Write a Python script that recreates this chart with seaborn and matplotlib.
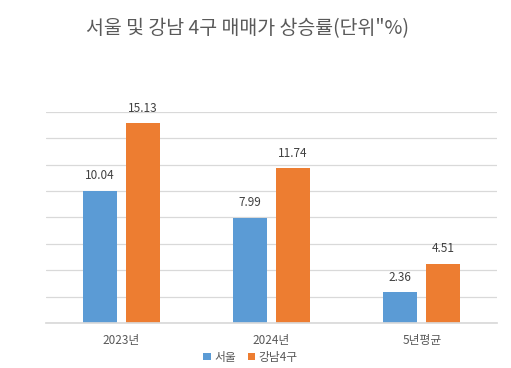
import matplotlib
matplotlib.use("Agg")
import matplotlib.pyplot as plt
import seaborn as sns
import pandas as pd
from matplotlib.patches import Patch

categories = ["2023년", "2024년", "5년평균"]
series_names = ["서울", "강남4구"]
seoul = [10.04, 7.99, 2.36]
gangnam = [15.13, 11.74, 4.51]
colors = ["#5b9bd5", "#ed7d31"]

df = pd.DataFrame({
    "cat": categories * 2,
    "series": [series_names[0]] * 3 + [series_names[1]] * 3,
    "value": seoul + gangnam,
})

sns.set_theme(style="white")
plt.rcParams["font.family"] = ["Noto Sans CJK KR", "DejaVu Sans"]

fig = plt.figure(figsize=(5.11, 3.68), dpi=100)
ax = fig.add_axes([0.09, 0.1215, 0.8826, 0.575])

sns.barplot(data=df, x="cat", y="value", hue="series", palette=colors,
            width=0.572, gap=0.21, ax=ax, legend=False, saturation=1, linewidth=0)

ax.set_ylim(0, 16)
ax.set_xlim(-0.5, 2.5)
ax.set_yticks(range(0, 17, 2))
ax.yaxis.grid(True, color="#d9d9d9", linewidth=0.9)
ax.set_axisbelow(True)
ax.tick_params(axis="y", left=False, labelleft=False)
ax.tick_params(axis="x", bottom=False, labelsize=8.5, colors="#595959", pad=2)
for s in ["top", "right", "left"]:
    ax.spines[s].set_visible(False)
ax.spines["bottom"].set_color("#d9d9d9")
ax.set_xlabel("")
ax.set_ylabel("")

for cont in ax.containers:
    ax.bar_label(cont, fmt="%.2f", padding=6, fontsize=8.5, color="#404040")

fig.text(0.485, 0.923, "서울 및 강남 4구 매매가 상승률(단위\"%)", ha="center", va="center",
         fontsize=14, color="#595959")

handles = [Patch(facecolor=c, edgecolor="none") for c in colors]
fig.legend(handles, series_names, loc="center", bbox_to_anchor=(0.49, 1 - 357 / 368),
           ncol=2, frameon=False, fontsize=8.5, handlelength=0.6, handleheight=0.6,
           handletextpad=0.3, columnspacing=1.0, labelcolor="#595959",
           borderpad=0.1)

fig.savefig("out.png", dpi=100)
